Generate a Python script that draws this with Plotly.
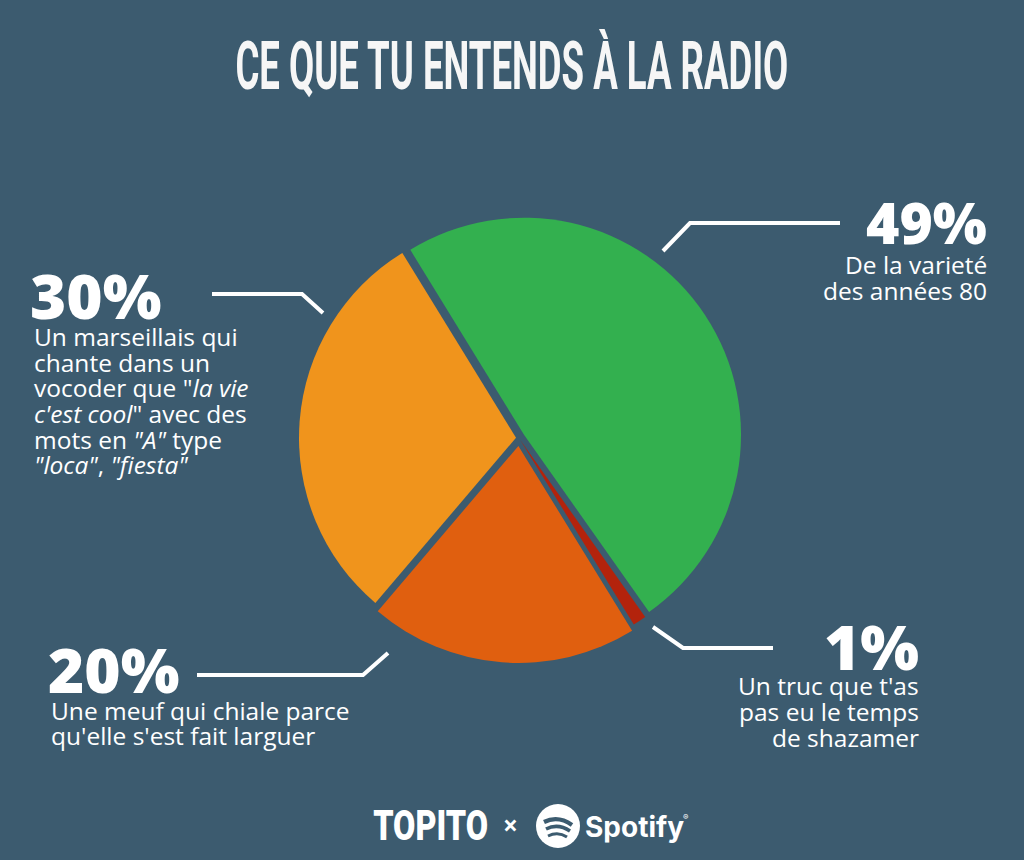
import plotly.graph_objects as go

W, H = 1024, 860
BG = "#3c5b6f"

# ---------------- data ----------------
title_text = "CE QUE TU ENTENDS À LA RADIO"
categories = [
    "De la varieté des années 80",
    "Un truc que t'as pas eu le temps de shazamer",
    "Une meuf qui chiale parce qu'elle s'est fait larguer",
    "Un marseillais qui chante dans un vocoder",
]
values = [49, 1, 20, 30]
colors = ["#33b04f", "#b3230c", "#e05f0f", "#f0941c"]
desc_lines = [
    ["De la varieté", "des années 80"],
    ["Un truc que t'as", "pas eu le temps", "de shazamer"],
    ["Une meuf qui chiale parce", "qu'elle s'est fait larguer"],
    ["Un marseillais qui", "chante dans un", 'vocoder que "<i>la vie</i>',
     "<i>c'est cool</i>\" avec des", 'mots en <i>"A"</i> type',
     '<i>"loca"</i>, <i>"fiesta"</i>'],
]

# ---------------- helpers ----------------
def X(px):
    return px / W

def Y(py):
    return 1 - py / H

# pie geometry (pixels): centre, slice radius, explode distances
CX, CY, R = 519, 438, 217
explode_px = [6, 2, 8, 3]
pulls = [d / R for d in explode_px]
RD = R * (1 + max(pulls))

fig = go.Figure()
fig.add_trace(go.Pie(
    labels=categories, values=values, sort=False, direction="clockwise",
    rotation=-31.6, pull=pulls,
    marker=dict(colors=colors, line=dict(color=BG, width=0)),
    textinfo="none", hoverinfo="skip", showlegend=False,
    domain=dict(x=[X(CX - RD), X(CX + RD)], y=[Y(CY + RD), Y(CY - RD)]),
))

annotations = []

def text(t, xpx, base, size, xanchor, weight=400, family="Open Sans",
         color="white", k=0.39):
    annotations.append(dict(
        text=t, x=X(xpx), y=Y(base - k * size), xref="paper", yref="paper",
        xanchor=xanchor, yanchor="middle", showarrow=False, borderpad=0,
        font=dict(family=family, size=size, color=color, weight=weight),
    ))

# label layout: (pct x, body x, anchor, pct baseline, pct size, first body baseline, spacing)
label_layout = [
    (988, 988, "right", 244, 57, 274, 26),
    (920, 920, "right", 670, 62, 695, 26),
    (47, 50, "left", 693, 62, 720, 25),
    (29, 33, "left", 319, 62, 346, 25.7),
]
BODY = 24.5
for v, lines, (xp, xb, anc, pb, ps, bb, sp) in zip(values, desc_lines, label_layout):
    text(f"{v}%", xp, pb, ps, anc, weight=800)
    for i, ln in enumerate(lines):
        text(ln, xb, bb + i * sp, BODY, anc)

# title (condensed with a horizontal squeeze applied after rendering)
text(title_text, 512, 90, 66, "center", weight=700, family="Roboto",
     color="#f6f6f6", k=0.36)

# footer
text("TOPITO", 430, 841, 42, "center", weight=900, family="Roboto", k=0.36)
text("×", 510, 835, 26, "center", weight=700)
text("Spotify", 584, 837, 28, "left", weight=700, family="Inter, Lato, sans-serif", k=0.36)
text("®", 682, 820, 8, "left", family="Inter")

shapes = []

def polyline(pts, width=4):
    path = "M " + " L ".join(f"{X(a)},{Y(b)}" for a, b in pts)
    shapes.append(dict(type="path", path=path, xref="paper", yref="paper",
                       line=dict(color="white", width=width)))

polyline([(663, 251), (690, 223), (840, 223)])
polyline([(212, 294), (302, 294), (323, 313)])
polyline([(197, 675), (363, 675), (388, 653)])
polyline([(653, 627), (683, 648), (773, 648)])

# spotify logo
SX, SY, SR = 558, 826, 22
shapes.append(dict(type="circle", xref="paper", yref="paper",
                   x0=X(SX - SR), x1=X(SX + SR), y0=Y(SY + SR), y1=Y(SY - SR),
                   fillcolor="white", line=dict(width=0)))
for (x0, y0, cx, cy, x1, y1, w) in [(-14, -4, 0, -11, 14, -1, 4.2),
                                     (-12, 3, 0, -3, 12, 5, 3.6),
                                     (-10, 10, 0, 5, 9, 11, 3)]:
    p = (f"M {X(SX + x0)},{Y(SY + y0)} Q {X(SX + cx)},{Y(SY + cy)} "
         f"{X(SX + x1)},{Y(SY + y1)}")
    shapes.append(dict(type="path", path=p, xref="paper", yref="paper",
                       line=dict(color=BG, width=w)))

fig.update_layout(
    width=W, height=H, paper_bgcolor=BG, plot_bgcolor=BG,
    margin=dict(l=0, r=0, t=0, b=0),
    annotations=annotations, shapes=shapes,
)

post = """
document.body.style.margin = '0';
document.body.style.overflow = 'hidden';
var gd = document.getElementById('{plot_id}');
function squeeze(prefix, target) {
  gd.querySelectorAll('.annotation-text').forEach(function (t) {
    if (t.textContent.indexOf(prefix) === 0) {
      var w = t.getBBox().width;
      if (w > 0) {
        t.style.transformBox = 'fill-box';
        t.style.transformOrigin = 'center';
        t.style.transform = 'scaleX(' + (target / w) + ')';
      }
    }
  });
}
squeeze('CE QUE', 553);
squeeze('TOPITO', 115);
"""
fig.write_html("out.html", post_script=post, config={"displayModeBar": False})
